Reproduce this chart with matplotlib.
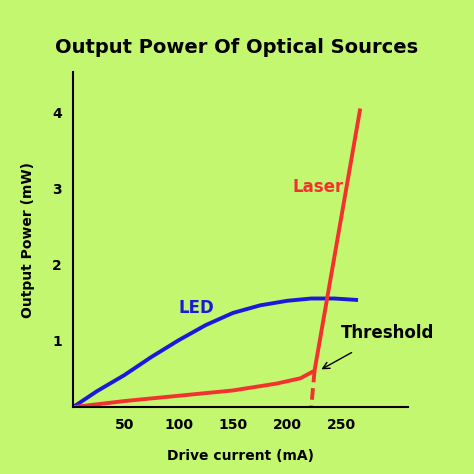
import matplotlib
matplotlib.use("Agg")
import matplotlib.pyplot as plt

led_x = [3, 25, 50, 75, 100, 125, 150, 175, 200, 222, 243, 265]
led_y = [0.12, 0.33, 0.54, 0.78, 1.0, 1.2, 1.36, 1.46, 1.52, 1.55, 1.55, 1.53]
laser_x = [3, 50, 100, 150, 190, 212, 225, 267]
laser_y = [0.12, 0.2, 0.27, 0.34, 0.43, 0.5, 0.6, 4.05]
dash_x = [225, 222]
dash_y = [0.6, 0.12]
xticks = [50, 100, 150, 200, 250]
yticks = [1, 2, 3, 4]

bg = "#c4f770"
fig = plt.figure(figsize=(4.74, 4.74), dpi=100, facecolor=bg)
ax = fig.add_axes([0.154, 0.141, 0.707, 0.707], facecolor=bg)
ax.plot(led_x, led_y, color="#1c1ad8", lw=2.8, solid_capstyle="butt")
ax.plot(laser_x, laser_y, color="#f2322e", lw=2.8, solid_capstyle="butt")
ax.plot(dash_x, dash_y, color="#f2322e", lw=2.8, ls=(0, (3, 1.5)))
ax.set_xlim(3, 311)
ax.set_ylim(0.12, 4.53)
ax.set_xticks(xticks)
ax.set_yticks(yticks)
ax.tick_params(labelsize=10, length=0, pad=8)
for t in ax.get_xticklabels() + ax.get_yticklabels():
    t.set_fontweight("bold")
for s in ["top", "right"]:
    ax.spines[s].set_visible(False)
for s in ["left", "bottom"]:
    ax.spines[s].set_linewidth(1.5)
ax.set_xlabel("Drive current (mA)", fontsize=10, fontweight="bold", labelpad=12)
ax.set_ylabel("Output Power (mW)", fontsize=10, fontweight="bold", labelpad=12)
ax.text(116, 1.42, "LED", color="#1c1ad8", fontsize=12, fontweight="bold", ha="center", va="center")
ax.text(228, 3.02, "Laser", color="#f2322e", fontsize=12, fontweight="bold", ha="center", va="center")
ax.annotate("Threshold", xy=(229, 0.6), xytext=(292, 1.1), fontsize=12, fontweight="bold",
            ha="center", va="center",
            arrowprops=dict(arrowstyle="->", color="black", lw=1, shrinkA=12, shrinkB=2))
fig.text(0.5, 0.9, "Output Power Of Optical Sources", ha="center", va="center",
         fontsize=14, fontweight="bold")
fig.savefig("out.png", dpi=100, facecolor=bg)
